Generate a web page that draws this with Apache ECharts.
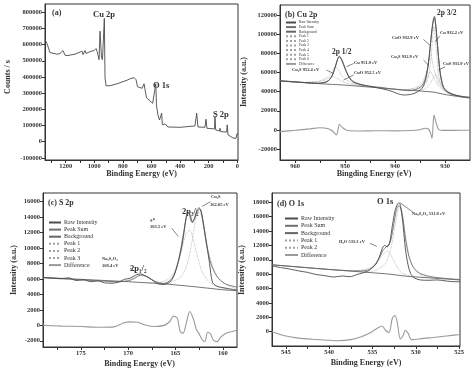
<!DOCTYPE html>
<html><head><meta charset="utf-8">
<script src="https://cdn.jsdelivr.net/npm/echarts@6/dist/echarts.min.js"></script>
<style>html,body{margin:0;padding:0;background:#fff}#c{width:474px;height:373px}</style>
</head><body><div id="c"></div>
<script>
// ---------- Panel (a) survey ----------
const aBE = [1345,1340,1331,1310,1260,1240,1219,1205,1191,1135,1100,1086,1079,1065,1058,1030,1002,988,980,967,960,950,943,930,925,918,890,841,771,750,722,708,698,666,652,645,635,610,597,592,583,570,565,555,544,529,524,505,494,485,400,296,284,275,226,219,212,159,156,151,124,121,116,75,70,65,51,30,9,2,-5];
const aCounts = [630000,621000,607000,551000,541000,545000,563000,535000,532000,541000,554000,560000,538000,563000,545000,557000,563000,576000,557000,507000,683000,520000,507000,762000,395000,346000,346000,358000,380000,389000,396000,383000,340000,330000,358000,321000,271000,253000,265000,237000,234000,358000,222000,166000,134000,176000,104000,110000,114000,91000,89000,97500,176000,91000,89000,139000,83000,79000,155000,73000,66000,83000,62000,60000,104000,43000,35000,23000,21000,50000,45000];
const aYLabels = [800000,700000,600000,500000,400000,300000,200000,100000,0,-100000];
const aXLabels = [1200,1000,800,600,400,200,0];
const aXTicks = [1300,1200,1100,1000,900,800,700,600,500,400,300,200,100,0];

// ---------- Panel (b) Cu 2p ----------
const bRawBE = [963,961,959,957,955.5,954.3,953.3,952.6,952,951.5,951.1,950.6,950,949.3,948.5,947,945,943,941,939.5,938.3,937,936,935,934.3,933.7,933.2,932.8,932.4,932.1,931.8,931.4,931,930.5,930,929,928,926.5,925];
const bRaw = [51400,50600,49800,49100,48700,49200,51500,56500,65000,73500,77000,72000,64000,56000,50500,47500,45500,43500,41000,38000,36500,37000,38500,41500,46000,57000,75000,95000,112000,118500,108000,82000,60000,47000,42000,38500,36500,35000,34000];
const bSumBE = [963,959,955.5,954,953,952.3,951.7,951.2,950.6,950,949.3,948.3,946,943,940,937,935.5,934.5,933.8,933.3,932.9,932.5,932.2,931.9,931.5,931,930.5,930,929,927.5,925];
const bSum = [51400,49900,48800,49800,53000,60000,70000,76500,73000,65000,56500,50500,46500,44500,42500,41000,43000,47000,56000,70000,90000,110000,117000,110000,88000,62000,48000,42000,38000,35500,33800];
const bBgBE = [963,955,950,948,940,934,932,930,925];
const bBg = [51000,48300,46800,46000,42600,40300,39300,37000,33200];
const bP1BE = [937,935,934,933.3,932.8,932.5,932.2,931.9,931.6,931.1,930,928,926];
const bP1 = [41500,43500,47000,56000,75000,95000,108000,95000,75000,52000,42000,36500,34000];
const bP2BE = [938,936,934.8,934,933.4,932.9,932.4,931.8,931,929.5,927];
const bP2 = [42000,44000,48000,56000,68000,80000,68000,56000,46500,39500,35500];
const bP3 = [41800,43200,46000,50000,56000,61000,56000,50000,44500,38800,35300];
const bP4BE = [936,934,933,932.4,931.9,931.4,930.8,930,928.5,926];
const bP4 = [41000,43000,48000,54000,58000,54000,47000,41000,36500,33500];
const bP5BE = [958,955.5,954,953,952.4,951.9,951.4,950.8,949.8,948,946];
const bP5 = [49800,50800,53500,58000,63000,66000,63000,58000,52500,47800,45800];
const bP6BE = [958,955.5,954,953.2,952.5,951.8,951,950,948,946];
const bP6 = [49700,50300,52000,54500,56000,54500,52000,49500,47000,45700];
const bDiffBE = [963,960,957,955,953.5,952.5,951.7,951.1,950.5,949.5,947,944,940,937,935,934,933.3,932.9,932.6,932.2,931.8,931.3,930.5,929,927,925];
const bDiff = [-1700,-300,1200,2400,1500,-1000,-5200,6000,2500,-500,-1000,-800,-900,-600,200,1800,1000,-3000,-8700,15600,8000,800,-400,-400,-300,-200];
const bYLabels = [120000,100000,80000,60000,40000,20000,0,-20000];
const bXLabels = [960,950,940,930];
const bXTicks = [960,955,950,945,940,935,930];
const bArrows = [[934.3,94400,933,88500],[931,97900,932,92000],[934.3,72900,933.3,67700],[930,66000,931.3,62500],[948.3,69400,949.7,66000],[948.3,57300,950.3,52100],[953.7,62500,952.3,59000]];

// ---------- Panel (c) S 2p ----------
const cRawBE = [179,178,177,176.3,175.5,174.7,174,173.2,172.5,171.7,171,170.4,169.8,169.2,168.7,168.1,167.5,166.8,166.2,165.6,165.2,164.8,164.4,164.1,163.9,163.7,163.45,163.2,162.95,162.7,162.5,162.25,162,161.7,161.4,161.1,160.7,160.1,159.4,158.5];
const cRaw = [6200,6100,6050,6150,5800,5900,5650,5750,5500,5450,5600,5950,6100,6500,6650,6350,5900,5350,5300,5600,6300,7800,9800,12000,13800,14700,14300,13300,14000,15000,15200,14500,12800,10500,8000,5600,5100,4900,4750,4550];
const cSumBE = [179,176,173,171,170,169.3,168.7,168,167.2,166.3,165.5,165,164.5,164.1,163.8,163.6,163.3,163,162.7,162.4,162.1,161.7,161.2,160.6,159.8,158.5];
const cSum = [6150,5950,5750,5650,5750,6100,6500,6300,5700,5400,5900,7000,9500,12300,14200,14500,13400,13700,14800,15000,13500,10300,7800,6300,5400,4950];
const cBgBE = [179,170,166,163,160,158.5];
const cBg = [6200,5650,5350,5000,4600,4480];
const cP1BE = [168,166.5,165.5,164.8,164.3,163.9,163.5,163.1,162.7,162.2,161.5,160.5,159];
const cP1 = [5500,5600,6300,7800,10000,11800,12300,11000,9000,7000,5700,5000,4600];
const cP2BE = [166,164.5,163.8,163.3,162.9,162.6,162.3,162,161.6,161.1,160.5,159.5,158.5];
const cP2 = [5400,6200,7800,10500,13500,14800,14300,12400,10000,7800,6200,5200,4700];
const cP3BE = [172,170.5,169.6,169,168.6,168.2,167.6,166.8,165.5];
const cP3 = [5550,5700,6050,6350,6450,6300,5950,5600,5350];
const cDiffBE = [179,177,175,173,171.5,170.5,169.8,169,168.2,167.2,166.2,165.6,165.2,164.8,164.5,164.2,163.8,163.5,163.1,162.8,162.5,162.2,161.9,161.6,161.3,161,160.6,160.2,159.6,159,158.5];
const cDiff = [0,-100,-150,-250,-200,300,450,400,50,-150,0,500,1200,900,-800,-1000,600,1800,800,-500,-1100,-1800,-2100,-900,-1100,-1900,-2100,-1500,-1000,-800,-600];
const cYLabels = [16000,14000,12000,10000,8000,6000,4000,2000,0,-2000];
const cXLabels = [175,170,165,160];
const cXTicks = [177.5,175,172.5,170,167.5,165,162.5,160];
const cArrows = [[161.3,16000,162.2,15380],[165.4,12570,164.7,11490],[169.8,7390,169.0,6740]];

// ---------- Panel (d) O 1s ----------
const dRawBE = [546.6,545.5,544.5,543.5,542.5,541.5,540.5,539.5,538.5,537.6,536.8,536.2,535.6,535.1,534.6,534.2,533.9,533.6,533.3,533,532.7,532.4,532.1,531.9,531.7,531.45,531.2,530.9,530.6,530.2,529.5,528.5,527.5,526.5,525.5,524.9];
const dRaw = [9150,8900,8700,8450,8250,7950,7800,7600,7750,7650,7950,8150,8400,8800,9400,10400,11500,12000,11800,12500,14800,16800,17800,17900,17000,14600,11500,9300,8100,7500,7200,7150,7200,7050,6950,6950];
const dSumBE = [546.6,544,541,538,536.5,535.5,534.8,534.2,533.8,533.4,533,532.6,532.3,532,531.8,531.5,531.2,530.8,530.3,529.5,528,526.5,524.9];
const dSum = [9300,9050,8750,8500,8450,8600,9200,10300,11300,11800,12300,14500,16600,17500,17400,15800,13000,10500,9000,8100,7600,7400,7250];
const dBgBE = [546.6,540,535,533,531,528,524.9];
const dBg = [9300,8650,8200,8000,7700,7450,7200];
const dP1BE = [535.5,534.5,533.6,533,532.5,532.1,531.85,531.6,531.2,530.7,530,529,527.5];
const dP1 = [8300,8600,9400,11000,14000,16700,17400,16700,13500,10200,8400,7700,7450];
const dP2BE = [537,535.5,534.6,534,533.6,533.3,533,532.6,532.1,531.5,530.5];
const dP2 = [8450,8800,9500,10400,11000,11200,10900,10000,8900,8100,7700];
const dDiffBE = [546.6,545,543.5,542,540.5,539,537.5,536.3,535.2,534.4,533.9,533.5,533.1,532.7,532.4,532.1,531.8,531.5,531.2,530.9,530.5,529.5,528,526.5,524.9];
const dDiff = [0,-600,-900,-1050,-1150,-1250,-1100,-700,-100,500,800,200,-100,1900,2250,1000,-1000,-600,200,-200,-1100,-1000,-800,-600,-400];
const dYLabels = [18000,16000,14000,12000,10000,8000,6000,4000,2000,0,-2000];
const dXLabels = [545,540,535,530,525];
const dXTicks = [545,542.5,540,537.5,535,532.5,530,527.5,525];
const dArrows = [[531.8,17900,530.3,16600],[535.3,12300,534.5,11860]];

// ---------- build ----------
const F = 'Liberation Serif';
const AX = '#333';
const chart = echarts.init(document.getElementById('c'), null, {renderer: 'canvas'});
function zip(xs, ys) { return xs.map((x, i) => [x, ys[i]]); }
function S(name, gi, xs, ys, color, width, type, smooth, z) {
  return {type: 'line', name: name, xAxisIndex: gi, yAxisIndex: gi, data: zip(xs, ys),
    showSymbol: false, symbol: 'none', smooth: smooth ? 0.3 : false, z: z || 2,
    lineStyle: {color: color, width: width, type: type}, itemStyle: {color: color},
    silent: true, animation: false};
}
function xAx(gi, min, max, labels, ticks, fs) {
  return {type: 'value', gridIndex: gi, inverse: true, min: min, max: max,
    axisLine: {show: true, onZero: false, lineStyle: {color: AX, width: 1}},
    axisTick: {show: true, customValues: ticks, length: 3, lineStyle: {color: AX}},
    axisLabel: {customValues: labels, formatter: v => String(v), fontFamily: F, fontWeight: 'bold', fontSize: fs, color: '#333', margin: 3},
    splitLine: {show: false}};
}
function yAx(gi, min, max, labels, fs) {
  return {type: 'value', gridIndex: gi, min: min, max: max,
    axisLine: {show: true, onZero: false, lineStyle: {color: AX, width: 1}},
    axisTick: {show: true, customValues: labels, length: 3, lineStyle: {color: AX}},
    axisLabel: {customValues: labels, formatter: v => String(v), fontFamily: F, fontWeight: 'bold', fontSize: fs, color: '#333', margin: 3},
    splitLine: {show: false}};
}
function arrows(list) {
  return {silent: true, symbol: ['none', 'arrow'], symbolSize: [0, 4], animation: false,
    lineStyle: {color: '#333', width: 0.6, type: 'solid'}, label: {show: false},
    data: list.map(a => [{coord: [a[0], a[1]]}, {coord: [a[2], a[3]]}])};
}
const cRawC = '#4d4d4d', cSumC = '#707070', cBgC = '#666', cPkC = '#a0a0a0', cDfC = '#9a9a9a';

const series = [];
// a
series.push(S('a', 0, aBE, aCounts, '#4a4a4a', 0.9, 'solid', false));
// b
series.push(S('b|Raw Intensity', 1, bRawBE, bRaw, cRawC, 0.9, 'solid', true, 4));
series.push(S('b|Peak Sum', 1, bSumBE, bSum, cSumC, 0.9, 'solid', true, 3));
const bBgS = S('b|Background', 1, bBgBE, bBg, cBgC, 0.9, 'solid', true, 3);
bBgS.markLine = arrows(bArrows);
series.push(bBgS);
series.push(S('b|Peak 1', 1, bP1BE, bP1, cPkC, 0.7, 'dotted', true));
series.push(S('b|Peak 2', 1, bP2BE, bP2, cPkC, 0.7, 'dotted', true));
series.push(S('b|Peak 3', 1, bP2BE, bP3, cPkC, 0.7, 'dotted', true));
series.push(S('b|Peak 4', 1, bP4BE, bP4, cPkC, 0.7, 'dotted', true));
series.push(S('b|Peak 5', 1, bP5BE, bP5, cPkC, 0.7, 'dotted', true));
series.push(S('b|Peak 6', 1, bP6BE, bP6, cPkC, 0.7, 'dotted', true));
series.push(S('b|Difference', 1, bDiffBE, bDiff, cDfC, 1.1, 'solid', true));
// c
series.push(S('c|Raw Intensity', 2, cRawBE, cRaw, cRawC, 0.9, 'solid', true, 4));
series.push(S('c|Peak Sum', 2, cSumBE, cSum, cSumC, 0.9, 'solid', true, 3));
const cBgS = S('c|Background', 2, cBgBE, cBg, cBgC, 0.9, 'solid', false, 3);
cBgS.markLine = arrows(cArrows);
series.push(cBgS);
series.push(S('c|Peak 1', 2, cP1BE, cP1, cPkC, 0.7, 'dotted', true));
series.push(S('c|Peak 2', 2, cP2BE, cP2, cPkC, 0.7, 'dotted', true));
series.push(S('c|Peak 3', 2, cP3BE, cP3, cPkC, 0.7, 'dotted', true));
series.push(S('c|Difference', 2, cDiffBE, cDiff, cDfC, 1.1, 'solid', true));
// d
series.push(S('d|Raw Intensity', 3, dRawBE, dRaw, cRawC, 0.9, 'solid', true, 4));
series.push(S('d|Peak Sum', 3, dSumBE, dSum, cSumC, 0.9, 'solid', true, 3));
const dBgS = S('d|Background', 3, dBgBE, dBg, cBgC, 0.9, 'solid', false, 3);
dBgS.markLine = arrows(dArrows);
series.push(dBgS);
series.push(S('d|Peak 1', 3, dP1BE, dP1, cPkC, 0.7, 'dotted', true));
series.push(S('d|Peak 2', 3, dP2BE, dP2, cPkC, 0.7, 'dotted', true));
series.push(S('d|Difference', 3, dDiffBE, dDiff, cDfC, 1.1, 'solid', true));

function legend(prefix, names, left, top, iw, ih, gap, fs) {
  return {orient: 'vertical', left: left, top: top, itemWidth: iw, itemHeight: ih, itemGap: gap,
    padding: 0, selectedMode: false, data: names.map(n => prefix + '|' + n),
    itemStyle: {opacity: 0},
    formatter: n => n.split('|')[1],
    textStyle: {fontFamily: F, fontSize: fs, lineHeight: ih, color: '#333', padding: [0, 0, 0, -2]}};
}
function T(x, y, text, size, align, rot, weight) {
  const el = {type: 'text', x: x, y: y, silent: true,
    style: {text: text, font: (weight || 'bold') + ' ' + size + 'px "' + F + '"', fill: '#333',
      align: align || 'left', textAlign: align || 'left', verticalAlign: 'middle', textVerticalAlign: 'middle'}};
  if (rot) el.rotation = rot;
  return el;
}
const R = Math.PI / 2;
const texts = [
  T(52, 13, '(a)', 8), T(93, 15, 'Cu 2p', 8.5), T(153, 86, 'O 1s', 8.5), T(213, 115, 'S 2p', 8.5),
  T(8, 77, 'Counts / s', 8, 'center', R), T(141.5, 174, 'Binding Energy (eV)', 8, 'center'),
  T(285, 15, '(b) Cu 2p', 8), T(437, 13, '2p 3/2', 7.5), T(332, 52, '2p 1/2', 7.5),
  T(392, 38, 'CuO 932.9 eV', 4.5), T(440, 33, 'Cu 932.2 eV', 4.5), T(391, 57, 'Cu\u2082S 932.9 eV', 4.5),
  T(443, 64, 'CuS 931.9 eV', 4.5), T(354, 63, 'Cu 951.9 eV', 4.5), T(292, 70, 'Cu\u2082S 952.4 eV', 4.5),
  T(354, 73, 'CuO 952.5 eV', 4.5),
  T(244, 82, 'Intensity (a.u.)', 8, 'center', R), T(374, 174, 'Bingding Energy (eV)', 8, 'center'),
  T(48, 203, '(c) S 2p', 8), T(182, 212, '2p\u2083/\u2082', 8.5), T(211, 197, 'Cu\u2082S', 4.5), T(210, 205, '162.05 eV', 4.5),
  T(150, 221, 'S\u2070', 4.5), T(150, 227, '163.5 eV', 4.5), T(102, 259, 'Na\u2082S\u2082O\u2083', 4.5), T(102, 266, '168.4 eV', 4.5),
  T(130, 269, '2p\u2081/\u2082', 8.5),
  T(14, 270, 'Intensity (a.u.)', 8, 'center', R), T(139.5, 364, 'Binding Energy (eV)', 8, 'center'),
  T(277, 204, '(d) O 1s', 8), T(377, 202, 'O 1s', 8.5), T(412, 214, 'Na\u2082S\u2082O\u2083 531.8 eV', 4.5),
  T(339, 242, 'H\u2082O 533.3 eV', 4.5),
  T(242, 270, 'Intensity (a.u.)', 8, 'center', R), T(366, 363, 'Binding Energy (eV)', 8, 'center')
];

const gridBase = {show: true, borderColor: AX, borderWidth: 1, backgroundColor: 'transparent', containLabel: false};
chart.setOption({
  backgroundColor: '#fff',
  animation: false,
  grid: [
    Object.assign({left: 45, top: 4, width: 193, height: 156}, gridBase),
    Object.assign({left: 280, top: 5, width: 190, height: 155}, gridBase),
    Object.assign({left: 43, top: 193, width: 194, height: 154}, gridBase),
    Object.assign({left: 272, top: 193, width: 188, height: 153}, gridBase)
  ],
  xAxis: [
    xAx(0, -5, 1345, aXLabels, aXTicks, 6.5),
    xAx(1, 925, 963, bXLabels, bXTicks, 6.5),
    xAx(2, 158.5, 179, cXLabels, cXTicks, 6.5),
    xAx(3, 524.9, 546.6, dXLabels, dXTicks, 6.5)
  ],
  yAxis: [
    yAx(0, -113000, 851000, aYLabels, 6.5),
    yAx(1, -31300, 130400, bYLabels, 6.5),
    yAx(2, -2800, 17120, cYLabels, 6.5),
    yAx(3, -1990, 19290, dYLabels, 6.5)
  ],
  legend: [
    legend('b', ['Raw Intensity','Peak Sum','Background','Peak 1','Peak 2','Peak 3','Peak 4','Peak 5','Peak 6','Difference'], 285, 20.5, 10, 4, 0.6, 3.6),
    legend('c', ['Raw Intensity','Peak Sum','Background','Peak 1','Peak 2','Peak 3','Difference'], 48, 219.5, 12, 6, 1.1, 6),
    legend('d', ['Raw Intensity','Peak Sum','Background','Peak 1','Peak 2','Difference'], 284, 215.5, 13, 6, 1.3, 6)
  ],
  series: series,
  graphic: {elements: texts}
});
</script>
</body></html>
